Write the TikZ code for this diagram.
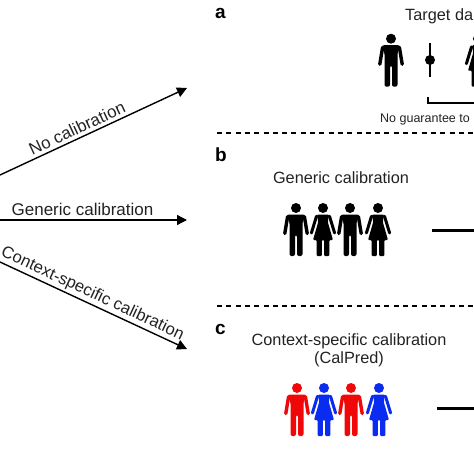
\documentclass[tikz,border=0pt]{standalone}
\usepackage{fontspec}
\setmainfont{Liberation Sans}
\usetikzlibrary{arrows.meta}
\definecolor{txt}{HTML}{222222}
\definecolor{fred}{HTML}{F00808}
\definecolor{fblue}{HTML}{0A2BF0}
\tikzset{
  x=1pt,y=-1pt,
  lbl/.style={inner sep=0pt,text=txt,font=\fontsize{#1}{#1}\selectfont},
  lbl/.default=14,
  panel/.style={inner sep=0pt,font=\bfseries\fontsize{19}{19}\selectfont},
  flow/.style={line width=1.4pt,-{Triangle[length=10pt,width=10pt]}},
  sep/.style={line width=1.2pt,dash pattern=on 5pt off 4.3pt},
  bar/.style={line width=3pt},
  pics/man/.style={code={
    \fill[#1] (0,0) circle (5);
    \fill[#1,rounded corners=2pt] (-9,6.5) -- (9,6.5) -- (6.5,14) -- (6.5,48) -- (1,48) -- (1,27) -- (-1,27) -- (-1,48) -- (-6.5,48) -- (-6.5,14) -- cycle;
    \draw[#1,line width=3.4pt,line cap=round,line join=round] (-8.4,8.6) -- (-11.2,25.5) (8.4,8.6) -- (11.2,25.5);
  }},
  pics/woman/.style={code={
    \fill[#1] (0,0) circle (5);
    \fill[#1,rounded corners=1pt] (-6,6.5) -- (6,6.5) -- (4.8,14) -- (10,32) -- (6.3,32) -- (6.3,48) -- (1.2,48) -- (1.2,32) -- (-1.2,32) -- (-1.2,48) -- (-6.3,48) -- (-6.3,32) -- (-10,32) -- (-4.8,14) -- cycle;
    \draw[#1,line width=3pt,line cap=round,line join=round] (-6.5,8.2) -- (-11.6,25) (6.5,8.2) -- (11.6,25);
  }},
}
\begin{document}
\begin{tikzpicture}
\useasboundingbox (0,0) rectangle (474,474);
% left arrows
\coordinate (s1) at (0,175); \coordinate (e1) at (187,88);
\coordinate (s2) at (0,220); \coordinate (e2) at (187,220);
\coordinate (s3) at (0,262); \coordinate (e3) at (187,349);
\draw[flow] (s1) -- (e1);
\draw[flow] (s2) -- (e2);
\draw[flow] (s3) -- (e3);
\node[lbl=17,rotate=25,anchor=center] (t1) at (77,128) {No calibration};
\node[lbl=17,anchor=center] (t2) at (82.5,209) {Generic calibration};
\node[lbl=16.7,rotate=-25,anchor=center] (t3) at (92.5,294) {Context-specific calibration};
% panel labels
\node[panel,anchor=base west] (pa) at (215,18) {a};
\node[panel,anchor=base west] (pb) at (215,161) {b};
\node[panel,anchor=base west] (pc) at (215,334) {c};
% separators
\coordinate (d1l) at (217,133); \coordinate (d1r) at (474,133);
\coordinate (d2l) at (217,306); \coordinate (d2r) at (474,306);
\draw[sep] (d1l) -- (d1r);
\draw[sep] (d2l) -- (d2r);
% panel a
\node[lbl=16.3,anchor=base west] (ta) at (405,20) {Target da};
\pic at (391,38.7) {man=black};
\pic at (478,38.7) {woman=black};
\coordinate (m1) at (430,43); \coordinate (m2) at (430,77);
\draw[line width=2pt] (m1) -- (m2);
\fill (430,60) circle (5);
\coordinate (b1) at (428,97); \coordinate (b2) at (428,103); \coordinate (b3) at (474,103);
\draw[line width=1.2pt] (b1) -- (b2) -- (b3);
\node[lbl=12.5,anchor=base west] (tg) at (380,122) {No guarantee to};
% panel b
\node[lbl=16.3,anchor=base] (tb) at (341,183) {Generic calibration};
\pic at (296,208) {man=black};
\pic at (323,208) {woman=black};
\pic at (350,208) {man=black};
\pic at (378,208) {woman=black};
\coordinate (bl) at (432,230); \coordinate (br) at (474,230);
\draw[bar] (bl) -- (br);
% panel c
\node[lbl=16.3,anchor=base] (tc1) at (349,345) {Context-specific calibration};
\node[lbl=16.3,anchor=base] (tc2) at (349,363) {(CalPred)};
\pic at (297,388) {man=fred};
\pic at (324,388) {woman=fblue};
\pic at (351,388) {man=fred};
\pic at (379,388) {woman=fblue};
\coordinate (cl) at (437,408); \coordinate (cr) at (474,408);
\draw[bar] (cl) -- (cr);
\end{tikzpicture}
\end{document}
